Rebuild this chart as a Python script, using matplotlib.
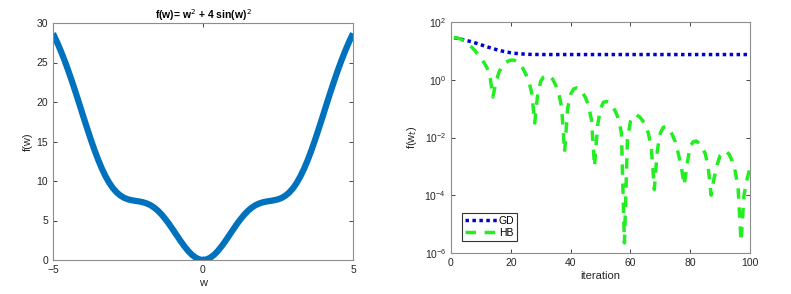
import numpy as np
import matplotlib.pyplot as plt
from matplotlib.ticker import FixedLocator, NullLocator

plt.rcParams['font.family'] = ['Liberation Sans', 'DejaVu Sans']

# Left panel: f(w) (right half, mirrored for the left half)
w_half = [0.0, 0.125, 0.25, 0.375, 0.5, 0.625, 0.75, 0.875, 1.0, 1.125,
          1.25, 1.375, 1.5, 1.625, 1.75, 1.875, 2.0, 2.125, 2.25, 2.375,
          2.5, 2.625, 2.75, 2.875, 3.0, 3.125, 3.25, 3.375, 3.5, 3.625,
          3.75, 3.875, 4.0, 4.125, 4.25, 4.375, 4.5, 4.625, 4.75, 4.875, 5.0]
f_half = [0.0, 0.078, 0.31, 0.677, 1.17, 1.76, 2.42, 3.122, 3.83, 4.522,
          5.16, 5.739, 6.23, 6.629, 6.94, 7.157, 7.31, 7.41, 7.48, 7.566,
          7.68, 7.862, 8.15, 8.546, 9.08, 9.767, 10.61, 11.603, 12.74, 14.004,
          15.37, 16.819, 18.29, 19.793, 21.27, 22.703, 24.07, 25.359, 26.56, 27.658, 28.68]
w_vals = [-w for w in w_half[:0:-1]] + w_half
f_vals = f_half[:0:-1] + f_half

# Right panel: objective per iteration
iters = list(range(1, 101))
gd_vals = [28.7, 27.5, 26.0, 24.5, 23.0, 21.8, 20.5, 19.0, 17.6, 16.3,
           15.0, 13.9, 12.9, 12.0, 11.2, 10.5, 9.9, 9.4, 9.0, 8.6,
           8.3, 8.1, 7.9, 7.8, 7.7, 7.6, 7.55, 7.52, 7.5, 7.48] + [7.46] * 70
hb_log = [1.46, 1.45, 1.42, 1.37, 1.30, 1.22, 1.12, 1.01, 0.88, 0.75,
          0.60, 0.42, 0.15, -0.60, -0.10, 0.25, 0.45, 0.57, 0.64, 0.68,
          0.68, 0.64, 0.55, 0.40, 0.20, -0.05, -0.45, -1.50, -0.50, -0.05,
          0.10, 0.15, 0.12, 0.02, -0.18, -0.45, -0.95, -2.50, -1.00, -0.50,
          -0.32, -0.28, -0.32, -0.45, -0.62, -0.90, -1.40, -3.00, -1.60, -1.00,
          -0.78, -0.75, -0.80, -0.92, -1.10, -1.35, -1.85, -5.65, -2.10, -1.45,
          -1.25, -1.22, -1.28, -1.40, -1.58, -1.85, -2.35, -3.80, -2.45, -1.85,
          -1.65, -1.62, -1.72, -1.90, -2.15, -2.55, -3.00, -3.65, -2.90, -2.30,
          -2.15, -2.12, -2.20, -2.35, -2.55, -3.00, -4.00, -3.40, -2.95, -2.62,
          -2.50, -2.48, -2.58, -2.80, -3.15, -3.70, -5.60, -4.00, -3.45, -3.05]
hb_vals = 10 ** np.array(hb_log)

W, H = 791, 294
fig = plt.figure(figsize=(W / 100, H / 100), dpi=100)

axis_col = '#262626'
spine_col = '#8c8c8c'


def style(ax):
    ax.tick_params(direction='in', top=True, right=True, labelsize=7.5,
                   colors=axis_col, length=3, width=0.6)
    for s in ax.spines.values():
        s.set_color(spine_col)
        s.set_linewidth(0.8)


# left axes
ax1 = fig.add_axes([53 / W, 1 - 260 / H, 300 / W, 237 / H])
ax1.plot(w_vals, f_vals, color='#0072BD', linewidth=4.5,
         solid_capstyle='butt', solid_joinstyle='round')
ax1.set_xlim(-5, 5)
ax1.set_ylim(0, 30)
ax1.set_xticks([-5, 0, 5])
ax1.set_yticks([0, 5, 10, 15, 20, 25, 30])
ax1.set_xlabel('w', fontsize=8, color=axis_col, labelpad=2)
ax1.set_ylabel('f(w)', fontsize=8, color=axis_col, labelpad=3)
ax1.set_title('f(w)= w$^2$ + 4 sin(w)$^2$', fontsize=7.5, fontweight='bold', pad=3)
style(ax1)

# right axes
ax2 = fig.add_axes([451 / W, 1 - 253 / H, 299 / W, 231 / H])
ax2.semilogy(iters, gd_vals, color='#0000d0', linestyle=(0, (1, 1)), linewidth=2.5, label='GD')
ax2.semilogy(iters, hb_vals, color='#22ee22', linestyle=(0, (3, 2.5)), linewidth=2.5, label='HB')
ax2.set_xlim(0, 100)
ax2.set_ylim(1e-6, 1e2)
ax2.set_xticks([0, 20, 40, 60, 80, 100])
ax2.yaxis.set_major_locator(FixedLocator([1e-6, 1e-4, 1e-2, 1e0, 1e2]))
ax2.yaxis.set_minor_locator(NullLocator())
ax2.set_xlabel('iteration', fontsize=8, color=axis_col, labelpad=2)
ax2.set_ylabel('f(w$_t$)', fontsize=8, color=axis_col, labelpad=4)
style(ax2)
leg = ax2.legend(loc='lower left', fontsize=7.5, handlelength=3.0, handletextpad=0.2,
                 borderpad=0.3, labelspacing=0.2, fancybox=False, framealpha=1,
                 bbox_to_anchor=(0.02, 0.03))
leg.get_frame().set_edgecolor('#333333')
leg.get_frame().set_linewidth(0.8)

fig.savefig('out.png', dpi=100)
